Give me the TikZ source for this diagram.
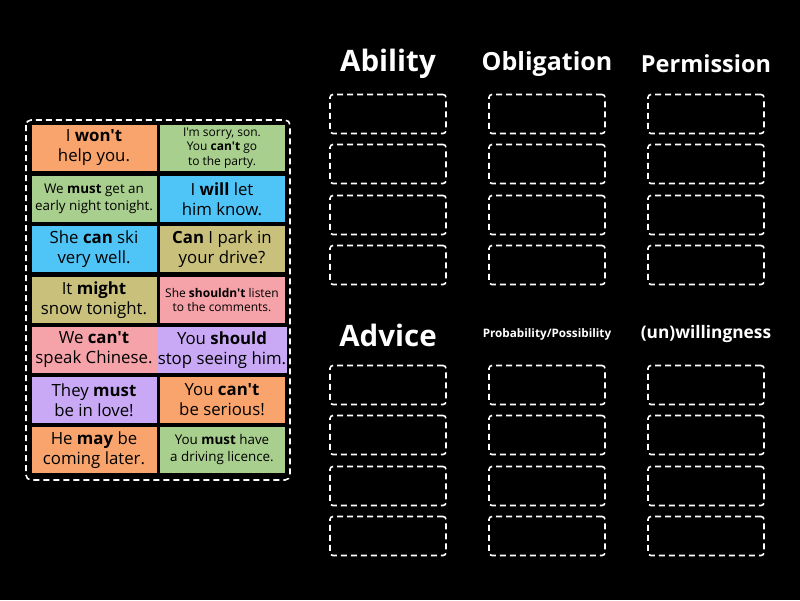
\documentclass[tikz,border=0pt]{standalone}
\usepackage{fontspec}
\setmainfont{Open Sans}[Ligatures=TeXReset]
\usetikzlibrary{positioning}
\definecolor{corange}{HTML}{F9A46C}
\definecolor{cgreen}{HTML}{A9CF8E}
\definecolor{cblue}{HTML}{4FC4F7}
\definecolor{colive}{HTML}{C9C17B}
\definecolor{cpink}{HTML}{F6A2A9}
\definecolor{cpurple}{HTML}{C9A9F6}
\tikzset{
  card/.style={fill=#1, minimum width=125pt, minimum height=46pt, inner sep=1pt,
    align=center, text=black},
  big/.style={font=\fontsize{16.8}{20}\selectfont},
  mid/.style={font=\fontsize{13.4}{17}\selectfont},
  small/.style={font=\fontsize{12}{14.5}\selectfont},
  slot/.style={draw=white, dashed, line width=1.6pt, rounded corners=3pt,
    minimum width=116pt, minimum height=39pt, dash pattern=on 6pt off 4pt},
  head/.style={text=white, font=\bfseries\fontsize{#1}{#1}\selectfont}
}
\begin{document}
\begin{tikzpicture}[x=1pt,y=-1pt]
  \fill[black] (0,0) rectangle (800,600);
  % card pile
  \draw[white, line width=1.6pt, rounded corners=5pt, dash pattern=on 6pt off 4pt]
    (26,120) rectangle (290,480);
  \node[card=corange, big]  (c1)  at (94,148)  {I \textbf{won't}\\help you.};
  \node[card=cgreen, small] (c2)  at (222,148) {I'm sorry, son.\\You \textbf{can't} go\\to the party.};
  \node[card=cgreen, mid]   (c3)  at (94,199)  {We \textbf{must} get an\\early night tonight.};
  \node[card=cblue, big]    (c4)  at (222,199) {I \textbf{will} let\\him know.};
  \node[card=cblue, big]    (c5)  at (94,249)  {She \textbf{can} ski\\very well.};
  \node[card=colive, big]   (c6)  at (222,249) {\textbf{Can} I park in\\your drive?};
  \node[card=colive, big]   (c7)  at (94,300)  {It \textbf{might}\\snow tonight.};
  \node[card=cpink, small]  (c8)  at (222,300) {She \textbf{shouldn't} listen\\to the comments.};
  \node[card=cpink, big]    (c9)  at (94,350)  {We \textbf{can't}\\speak Chinese.};
  \node[card=cpurple, big]  (c10) at (222,350) {You \textbf{should}\\stop seeing him.};
  \node[card=cpurple, big]  (c11) at (94,400)  {They \textbf{must}\\be in love!};
  \node[card=corange, big]  (c12) at (222,400) {You \textbf{can't}\\be serious!};
  \node[card=corange, big]  (c13) at (94,450)  {He \textbf{may} be\\coming later.};
  \node[card=cgreen, mid]   (c14) at (222,450) {You \textbf{must} have\\a driving licence.};
  % category headings
  \node[head=29.5] (ability)    at (388,64)  {Ability};
  \node[head=25]   (obligation) at (547,64)  {Obligation};
  \node[head=23.5] (permission) at (706,64)  {Permission};
  \node[head=29.5] (advice)     at (388,335) {Advice};
  \node[head=11.7] (probab)     at (547,334) {Probability/Possibility};
  \node[head=17.3] (unwill)     at (706,334) {(un)willingness};
  % drop slots
  \foreach \x in {388,547,706} {
    \foreach \y in {114,164,215,265,385,435,486,536} {
      \node[slot] at (\x,\y) {};
    }
  }
\end{tikzpicture}
\end{document}
